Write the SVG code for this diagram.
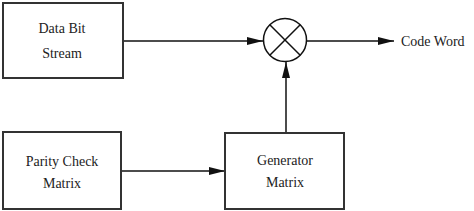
<svg xmlns="http://www.w3.org/2000/svg" width="474" height="211" viewBox="0 0 474 211">
<style>
.box{fill:#fff;stroke:#333;stroke-width:2}
.t{font-size:14px;fill:#222;text-anchor:middle}
.ln{stroke:#111;stroke-width:1.5;fill:none}
</style>
<defs>
<marker id="ah" markerWidth="16" markerHeight="8" refX="16" refY="4" orient="auto" markerUnits="userSpaceOnUse">
<path d="M0,0 L16,4 L0,8 Z" fill="#111"/>
</marker>
</defs>
<rect width="474" height="211" fill="#fff"/>
<g id="connectors">
<line class="ln" x1="123" y1="41" x2="263" y2="41" marker-end="url(#ah)"/>
<line class="ln" x1="307" y1="41" x2="394" y2="41" marker-end="url(#ah)"/>
<line class="ln" x1="121" y1="171" x2="225" y2="171" marker-end="url(#ah)"/>
<line class="ln" x1="286" y1="133" x2="286" y2="62" marker-end="url(#ah)"/>
</g>
<g font-family="Liberation Serif, Times New Roman, DejaVu Serif, serif">
<g id="data-bit-stream">
<rect class="box" x="3" y="3" width="120" height="75"/>
<text class="t" x="62" y="33">Data Bit</text>
<text class="t" x="62" y="58">Stream</text>
</g>
<g id="mixer">
<circle cx="285" cy="40" r="21.5" fill="#fff" stroke="#111" stroke-width="1.5"/>
<line class="ln" x1="269.8" y1="24.8" x2="300.2" y2="55.2"/>
<line class="ln" x1="300.2" y1="24.8" x2="269.8" y2="55.2"/>
</g>
<g id="code-word">
<text class="t" x="401" y="46" style="text-anchor:start">Code Word</text>
</g>
<g id="parity-check-matrix">
<rect class="box" x="3" y="132" width="118" height="77"/>
<text class="t" x="62" y="166">Parity Check</text>
<text class="t" x="62" y="188">Matrix</text>
</g>
<g id="generator-matrix">
<rect class="box" x="225" y="133" width="119" height="76"/>
<text class="t" x="285" y="165">Generator</text>
<text class="t" x="285" y="187">Matrix</text>
</g>
</g>
</svg>
